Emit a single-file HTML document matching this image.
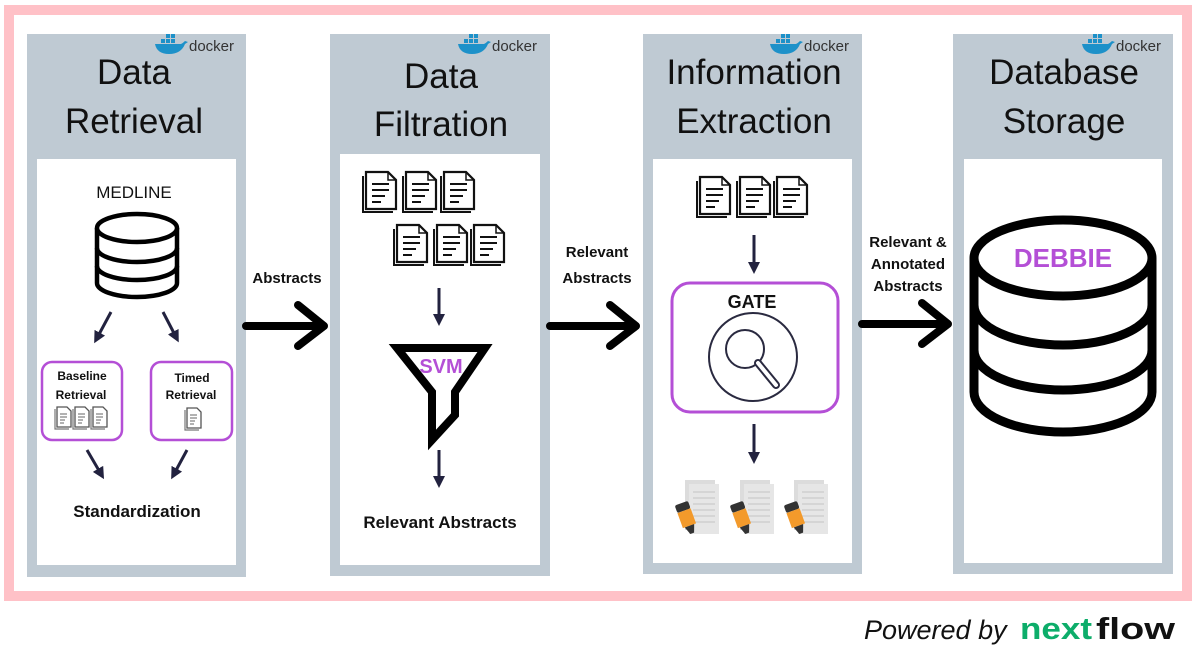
<!DOCTYPE html>
<html><head><meta charset="utf-8"><style>
html,body{margin:0;padding:0;background:#fff;}
svg{display:block;}
text{font-family:"Liberation Sans",sans-serif;}
</style></head><body>
<svg width="1198" height="648" viewBox="0 0 1198 648" xmlns="http://www.w3.org/2000/svg">
<defs>
  <g id="doc">
    <path d="M0,4 L0,40 L30,40" fill="none" stroke="#111" stroke-width="2"/>
    <path d="M3,0 L25,0 L33,8 L33,37 L3,37 Z" fill="#fff" stroke="#111" stroke-width="2.2"/>
    <path d="M25,0 L25,8 L33,8" fill="none" stroke="#111" stroke-width="1.5"/>
    <line x1="9" y1="12" x2="26" y2="12" stroke="#111" stroke-width="2"/>
    <line x1="9" y1="18" x2="26" y2="18" stroke="#111" stroke-width="2"/>
    <line x1="9" y1="24" x2="22" y2="24" stroke="#111" stroke-width="2"/>
    <line x1="9" y1="30" x2="18" y2="30" stroke="#111" stroke-width="2"/>
  </g>
  <g id="sdoc">
    <path d="M2,1 L12,1 L16,5 L16,21 L2,21 Z" fill="#fff" stroke="#555" stroke-width="1.3"/>
    <path d="M0,3 L0,23 L14,23" fill="none" stroke="#777" stroke-width="1.2"/>
    <line x1="5" y1="8" x2="12" y2="8" stroke="#666" stroke-width="1"/>
    <line x1="5" y1="11" x2="12" y2="11" stroke="#666" stroke-width="1"/>
    <line x1="5" y1="14" x2="10" y2="14" stroke="#666" stroke-width="1"/>
    <line x1="5" y1="17" x2="9" y2="17" stroke="#666" stroke-width="1"/>
  </g>
  <g id="anno">
    <rect x="10" y="0" width="30" height="50" fill="#dcdcdc"/>
    <rect x="14" y="4" width="30" height="50" fill="#e6e6e6"/>
    <g stroke="#c4c4c4" stroke-width="1"><line x1="18" y1="12" x2="40" y2="12"/><line x1="18" y1="18" x2="40" y2="18"/><line x1="18" y1="24" x2="40" y2="24"/><line x1="18" y1="30" x2="40" y2="30"/><line x1="18" y1="36" x2="40" y2="36"/><line x1="18" y1="42" x2="40" y2="42"/></g>
    <g transform="rotate(-20 12 36)">
      <rect x="4" y="22" width="14" height="8" fill="#333" rx="2"/>
      <rect x="4" y="30" width="14" height="16" fill="#f39a2b"/>
      <path d="M6,46 L16,46 L13,54 L9,54 Z" fill="#333"/>
    </g>
  </g>
  <g id="whale">
    <path d="M0,10 Q2,20 14,20 Q26,20 30,10 L33,8 L30,7 Q28,9 26,10 Z" fill="#1d91c9"/>
    <rect x="6" y="5" width="4" height="4" fill="#1d91c9"/><rect x="11" y="5" width="4" height="4" fill="#1d91c9"/><rect x="16" y="5" width="4" height="4" fill="#1d91c9"/>
    <rect x="11" y="0" width="4" height="4" fill="#1d91c9"/><rect x="16" y="0" width="4" height="4" fill="#1d91c9"/>
  </g>
  <marker id="ah" viewBox="0 0 10 10" refX="5" refY="5" markerWidth="4" markerHeight="4" orient="auto"><path d="M0,0 L10,5 L0,10 Z" fill="#22223f"/></marker>
</defs>

<!-- pink frame -->
<rect x="9" y="10" width="1178" height="586" fill="none" stroke="#ffc1c7" stroke-width="10"/>

<!-- columns -->
<g fill="#bfcad3">
  <rect x="27" y="34" width="219" height="543"/>
  <rect x="330" y="34" width="220" height="542"/>
  <rect x="643" y="34" width="219" height="540"/>
  <rect x="953" y="34" width="220" height="540"/>
</g>
<g fill="#fff">
  <rect x="37" y="159" width="199" height="406"/>
  <rect x="340" y="154" width="200" height="411"/>
  <rect x="653" y="159" width="199" height="404"/>
  <rect x="964" y="159" width="198" height="404"/>
</g>

<!-- docker logos -->
<g transform="translate(155,34)"><use href="#whale"/><text x="34" y="17" font-size="15" fill="#333">docker</text></g>
<g transform="translate(458,34)"><use href="#whale"/><text x="34" y="17" font-size="15" fill="#333">docker</text></g>
<g transform="translate(770,34)"><use href="#whale"/><text x="34" y="17" font-size="15" fill="#333">docker</text></g>
<g transform="translate(1082,34)"><use href="#whale"/><text x="34" y="17" font-size="15" fill="#333">docker</text></g>

<!-- titles -->
<g font-size="35" fill="#111" text-anchor="middle">
  <text x="134" y="84">Data</text><text x="134" y="133">Retrieval</text>
  <text x="441" y="88">Data</text><text x="441" y="136">Filtration</text>
  <text x="754" y="84">Information</text><text x="754" y="133">Extraction</text>
  <text x="1064" y="84">Database</text><text x="1064" y="133">Storage</text>
</g>

<!-- col1 -->
<text x="134" y="198" font-size="17" text-anchor="middle" fill="#111">MEDLINE</text>
<g fill="none" stroke="#000" stroke-width="4.5">
  <path d="M97,228 L97,283 A40,14 0 0 0 177,283 L177,228"/>
  <ellipse cx="137" cy="228" rx="40" ry="14" fill="#fff"/>
  <path d="M97,248 A40,14 0 0 0 177,248"/>
  <path d="M97,266 A40,14 0 0 0 177,266"/>
</g>
<g stroke="#22223f" stroke-width="3" marker-end="url(#ah)">
  <line x1="111" y1="312" x2="97" y2="338"/>
  <line x1="163" y1="312" x2="176" y2="337"/>
  <line x1="87" y1="450" x2="101" y2="474"/>
  <line x1="187" y1="450" x2="174" y2="474"/>
</g>
<rect x="42" y="362" width="80" height="78" rx="10" fill="#fff" stroke="#b44fd6" stroke-width="2.5"/>
<rect x="151" y="362" width="81" height="78" rx="10" fill="#fff" stroke="#b44fd6" stroke-width="2.5"/>
<g font-size="12" font-weight="bold" text-anchor="middle" fill="#111">
  <text x="82" y="380">Baseline</text><text x="81" y="399">Retrieval</text>
  <text x="192" y="382">Timed</text><text x="191" y="399">Retrieval</text>
</g>
<use href="#sdoc" x="55" y="406"/><use href="#sdoc" x="73" y="406"/><use href="#sdoc" x="91" y="406"/>
<use href="#sdoc" x="185" y="407"/>
<text x="137" y="517" font-size="17" font-weight="bold" text-anchor="middle" fill="#111">Standardization</text>

<!-- col2 -->
<use href="#doc" x="363" y="172"/><use href="#doc" x="403" y="172"/><use href="#doc" x="441" y="172"/>
<use href="#doc" x="394" y="225"/><use href="#doc" x="434" y="225"/><use href="#doc" x="471" y="225"/>
<line x1="439" y1="288" x2="439" y2="320" stroke="#22223f" stroke-width="3" marker-end="url(#ah)"/>
<path d="M397,348 L485,348 L455,392 L455,415 L432,440 L432,392 Z" fill="none" stroke="#000" stroke-width="8" stroke-linejoin="miter"/>
<text x="441" y="373" font-size="20" font-weight="bold" text-anchor="middle" fill="#b44fd6">SVM</text>
<line x1="439" y1="450" x2="439" y2="482" stroke="#22223f" stroke-width="3" marker-end="url(#ah)"/>
<text x="440" y="528" font-size="17" font-weight="bold" text-anchor="middle" fill="#111">Relevant Abstracts</text>

<!-- col3 -->
<use href="#doc" x="697" y="177"/><use href="#doc" x="737" y="177"/><use href="#doc" x="774" y="177"/>
<line x1="754" y1="235" x2="754" y2="268" stroke="#22223f" stroke-width="3" marker-end="url(#ah)"/>
<rect x="672" y="283" width="166" height="129" rx="18" fill="#fff" stroke="#b44fd6" stroke-width="3"/>
<text x="752" y="308" font-size="18" font-weight="bold" text-anchor="middle" fill="#111">GATE</text>
<circle cx="753" cy="357" r="44" fill="none" stroke="#2a2a40" stroke-width="2"/>
<circle cx="745" cy="349" r="19" fill="none" stroke="#2a2a40" stroke-width="2"/>
<path d="M758,363 L776,385" stroke="#2a2a40" stroke-width="8" stroke-linecap="round"/>
<path d="M758,363 L776,385" stroke="#fff" stroke-width="4" stroke-linecap="round"/>
<line x1="754" y1="424" x2="754" y2="458" stroke="#22223f" stroke-width="3" marker-end="url(#ah)"/>
<use href="#anno" x="675" y="480"/><use href="#anno" x="730" y="480"/><use href="#anno" x="784" y="480"/>

<!-- col4 DB -->
<g fill="none" stroke="#000" stroke-width="9">
  <path d="M974,258 L974,392 A89,40 0 0 0 1152,392 L1152,258"/>
  <path d="M974,305 A89,40 0 0 0 1152,305"/>
  <path d="M974,350 A89,40 0 0 0 1152,350"/>
  <ellipse cx="1063" cy="258" rx="89" ry="38" fill="#fff"/>
</g>
<text x="1063" y="267" font-size="26" font-weight="bold" text-anchor="middle" fill="#b44fd6">DEBBIE</text>

<!-- big arrows -->
<g fill="none" stroke="#000" stroke-width="8" stroke-linecap="round" stroke-linejoin="round">
  <path d="M246,326 L324,326 M298,305 L324,326 L298,346"/>
  <path d="M550,326 L636,326 M610,305 L636,326 L610,346"/>
  <path d="M862,324 L948,324 M922,303 L948,324 L922,344"/>
</g>
<g font-size="15" font-weight="bold" text-anchor="middle" fill="#111">
  <text x="287" y="283">Abstracts</text>
  <text x="597" y="257">Relevant</text><text x="597" y="283">Abstracts</text>
  <text x="908" y="247">Relevant &amp;</text><text x="908" y="269">Annotated</text><text x="908" y="291">Abstracts</text>
</g>

<!-- footer -->
<text x="864" y="639" font-size="27" font-style="italic" fill="#111">Powered by</text>
<text x="1020" y="639" font-size="31" font-weight="bold" fill="#0dad6a" textLength="72" lengthAdjust="spacingAndGlyphs">next</text>
<text x="1096" y="639" font-size="31" font-weight="bold" fill="#111" textLength="79" lengthAdjust="spacingAndGlyphs">flow</text>
</svg>
</body></html>
